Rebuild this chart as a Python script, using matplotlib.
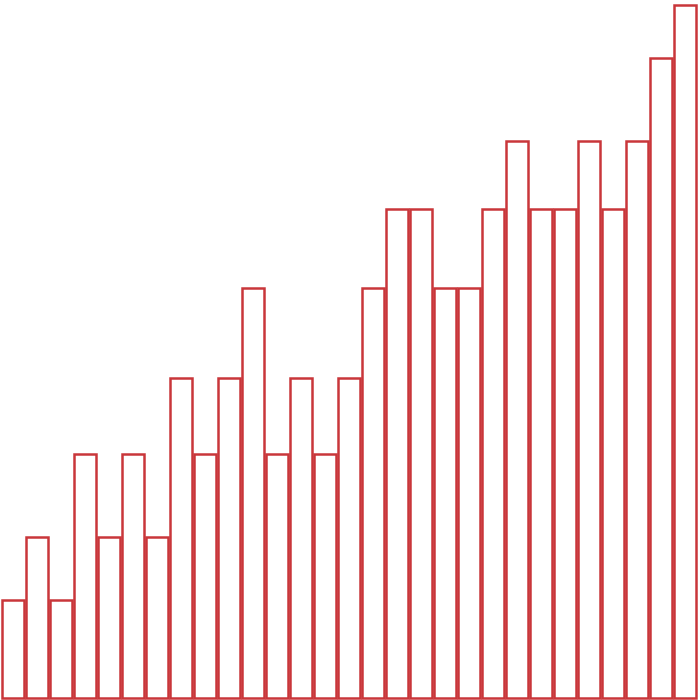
import numpy as np
import matplotlib
matplotlib.use("Agg")
import matplotlib.pyplot as plt

# bar heights (pixel-ish units)
categories = list(range(29))
values = [98, 161, 98, 244, 161, 244, 161, 320, 244, 320,
          410, 244, 320, 244, 320, 410, 489, 489, 410, 410,
          489, 557, 489, 489, 557, 489, 557, 640, 693]

edge_color = "#c9363a"

fig = plt.figure(figsize=(7, 7), dpi=100)
ax = fig.add_axes([0, 0, 1, 1])
ax.bar(categories, values, width=0.93, color="white",
       edgecolor=edge_color, linewidth=1.8)

ax.set_xlim(-0.54, 28.62)
ax.set_ylim(-2, 698)
ax.axis("off")

fig.savefig("out.png", dpi=100, facecolor="white")
